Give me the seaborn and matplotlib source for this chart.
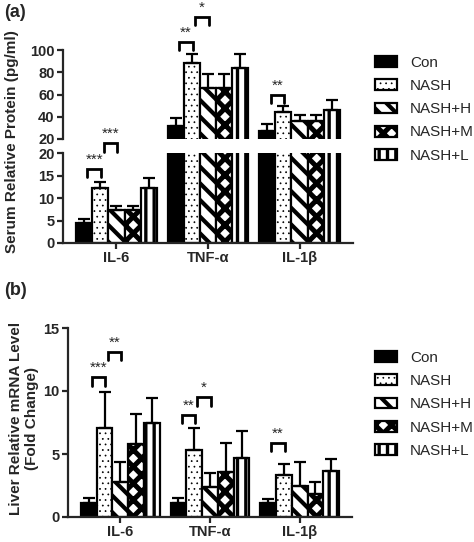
import numpy as np
import pandas as pd
import seaborn as sns
import matplotlib.pyplot as plt
from matplotlib.container import BarContainer

sns.set_style("ticks")
plt.rcParams['font.family'] = ['Liberation Sans', 'DejaVu Sans']
plt.rcParams['hatch.linewidth'] = 2.8

groups = ["Con", "NASH", "NASH+H", "NASH+M", "NASH+L"]
cytokines = ["IL-6", "TNF-α", "IL-1β"]

# (a) serum protein, pg/ml - one list per cytokine in group order
serum_il6 = [4.4, 12.2, 7.3, 7.3, 12.3]
serum_il6_sd = [0.9, 1.3, 0.9, 0.9, 2.2]
serum_tnf = [31.5, 88, 66, 66, 84]
serum_tnf_sd = [7.5, 8.5, 12, 12, 12.5]
serum_il1b = [27, 44.5, 36, 36, 46]
serum_il1b_sd = [6.5, 5.5, 5.5, 5.5, 9]

# (b) liver mRNA, fold change
liver_il6 = [1.1, 7.05, 2.8, 5.8, 7.45]
liver_il6_sd = [0.4, 2.85, 1.6, 2.4, 2.0]
liver_tnf = [1.1, 5.3, 2.35, 3.6, 4.65]
liver_tnf_sd = [0.4, 1.8, 1.15, 2.3, 2.15]
liver_il1b = [1.1, 3.3, 2.5, 1.85, 3.65]
liver_il1b_sd = [0.35, 0.9, 1.85, 0.95, 0.95]

# significance brackets: (cytokine, group from, group to, label, bracket top, end)
sig_a_low = [(0, 0, 1, "***", 16.4, 14.7), (0, 1, 2, "***", 22.2, 20.2)]
sig_a_high = [(1, 0, 1, "**", 107, 100), (1, 1, 2, "*", 129.5, 122.5),
              (2, 0, 1, "**", 59.5, 52.5)]
sig_b = [(0, 0, 1, "***", 11.1, 10.4), (0, 1, 2, "**", 13.1, 12.5),
         (1, 0, 1, "**", 8.1, 7.5), (1, 1, 2, "*", 9.5, 8.8),
         (2, 0, 1, "**", 5.9, 5.2)]

fills = {"Con": "black", "NASH": "white", "NASH+H": "white", "NASH+M": "white", "NASH+L": "white"}
hatches = ["", "...", "\\\\", "xx", "||"]
hatch_lw = [1.0, 0.5, 3.0, 3.6, 2.4]


def long_table(values):
    rows = []
    for cyto, vals in zip(cytokines, values):
        for g, v in zip(groups, vals):
            rows.append({"cytokine": cyto, "group": g, "value": v})
    return pd.DataFrame(rows)


def bar_sets(ax):
    return [c for c in ax.containers if isinstance(c, BarContainer)]


def set_hatch(bar, hatch, lw):
    bar.set_hatch(hatch)
    if hasattr(bar, "set_hatch_linewidth"):
        bar.set_hatch_linewidth(lw)
    else:
        bar._hatch_linewidth = lw


def draw_bars(ax, values, sds):
    df = long_table(values)
    sns.barplot(data=df, x="cytokine", y="value", hue="group", order=cytokines,
                hue_order=groups, palette=fills, saturation=1, width=0.88,
                errorbar=None, edgecolor="black", linewidth=1.6, legend=False, ax=ax)
    for k, cont in enumerate(bar_sets(ax)):
        xs, ys, es = [], [], []
        for bar in cont:
            set_hatch(bar, hatches[k], hatch_lw[k])
            xc = bar.get_x() + bar.get_width() / 2
            xs.append(xc)
            ys.append(bar.get_height())
            es.append(sds[int(round(xc))][k])
        ax.errorbar(xs, ys, yerr=[np.zeros(len(es)), es], fmt="none", ecolor="black",
                    elinewidth=1.6, capsize=4.5, capthick=1.6, zorder=3)


def brackets(ax, sigs):
    bars = bar_sets(ax)
    for c, i, j, lab, top, end in sigs:
        bi = bars[i][c]
        bj = bars[j][c]
        w = bi.get_width()
        x1 = bi.get_x() + 0.7 * w
        x2 = bj.get_x() + 0.55 * w
        ax.plot([x1, x1, x2, x2], [end, top, top, end], color="black", lw=2.0,
                clip_on=False, solid_joinstyle="miter", zorder=4)
        ax.annotate(lab, xy=((x1 + x2) / 2, top), xytext=(0, 1.5),
                    textcoords="offset points", ha="center", va="bottom",
                    fontsize=11, annotation_clip=False)


def style(ax):
    ax.set_xlabel("")
    ax.set_ylabel("")
    for s in ax.spines.values():
        s.set_linewidth(1.6)
    ax.tick_params(width=1.6, length=4, labelsize=10.5, pad=2)
    for lab in ax.get_xticklabels() + ax.get_yticklabels():
        lab.set_fontweight("bold")


fig = plt.figure(figsize=(4.74, 5.42), dpi=100)
W, H = 474, 542

ax_hi = fig.add_axes([63 / W, 1 - 139 / H, 290 / W, 89 / H])
ax_lo = fig.add_axes([63 / W, 1 - 243 / H, 290 / W, 90 / H])
ax_b = fig.add_axes([68 / W, 1 - 517 / H, 284 / W, 189 / H])

serum = [serum_il6, serum_tnf, serum_il1b]
serum_sd = [serum_il6_sd, serum_tnf_sd, serum_il1b_sd]
liver = [liver_il6, liver_tnf, liver_il1b]
liver_sd = [liver_il6_sd, liver_tnf_sd, liver_il1b_sd]

draw_bars(ax_hi, serum, serum_sd)
draw_bars(ax_lo, serum, serum_sd)
draw_bars(ax_b, liver, liver_sd)

ax_hi.set_ylim(20, 100)
ax_hi.set_yticks([20, 40, 60, 80, 100])
ax_lo.set_ylim(0, 20)
ax_lo.set_yticks([0, 5, 10, 15, 20])
ax_b.set_ylim(0, 15)
ax_b.set_yticks([0, 5, 10, 15])

for ax in (ax_hi, ax_lo, ax_b):
    sns.despine(ax=ax)
    style(ax)
ax_hi.spines["bottom"].set_visible(False)
ax_hi.tick_params(axis="x", bottom=False, labelbottom=False)

brackets(ax_lo, sig_a_low)
brackets(ax_hi, sig_a_high)
brackets(ax_b, sig_b)

fig.text(12 / W, 1 - 142 / H, "Serum Relative Protein (pg/ml)", rotation=90,
         ha="center", va="center", fontsize=11, fontweight="bold")
fig.text(24 / W, 1 - 418 / H, "Liver Relative mRNA Level\n(Fold Change)", rotation=90,
         ha="center", va="center", fontsize=11, fontweight="bold", multialignment="center",
         linespacing=1.1)
fig.text(4 / W, 1 - 4 / H, "(a)", ha="left", va="top", fontsize=13, fontweight="bold")
fig.text(4 / W, 1 - 282 / H, "(b)", ha="left", va="top", fontsize=13, fontweight="bold")

for ax, ytop in ((ax_lo, 56), (ax_b, 351)):
    leg = fig.legend(handles=bar_sets(ax), labels=groups, loc="upper left",
                     bbox_to_anchor=(375 / W, 1 - ytop / H), frameon=False, fontsize=11,
                     borderpad=0, borderaxespad=0, handlelength=1.45, handleheight=0.72,
                     handletextpad=0.85, labelspacing=0.6)
    for k, patch in enumerate(leg.get_patches()):
        set_hatch(patch, hatches[k], hatch_lw[k])

fig.savefig("out.png", dpi=100)
